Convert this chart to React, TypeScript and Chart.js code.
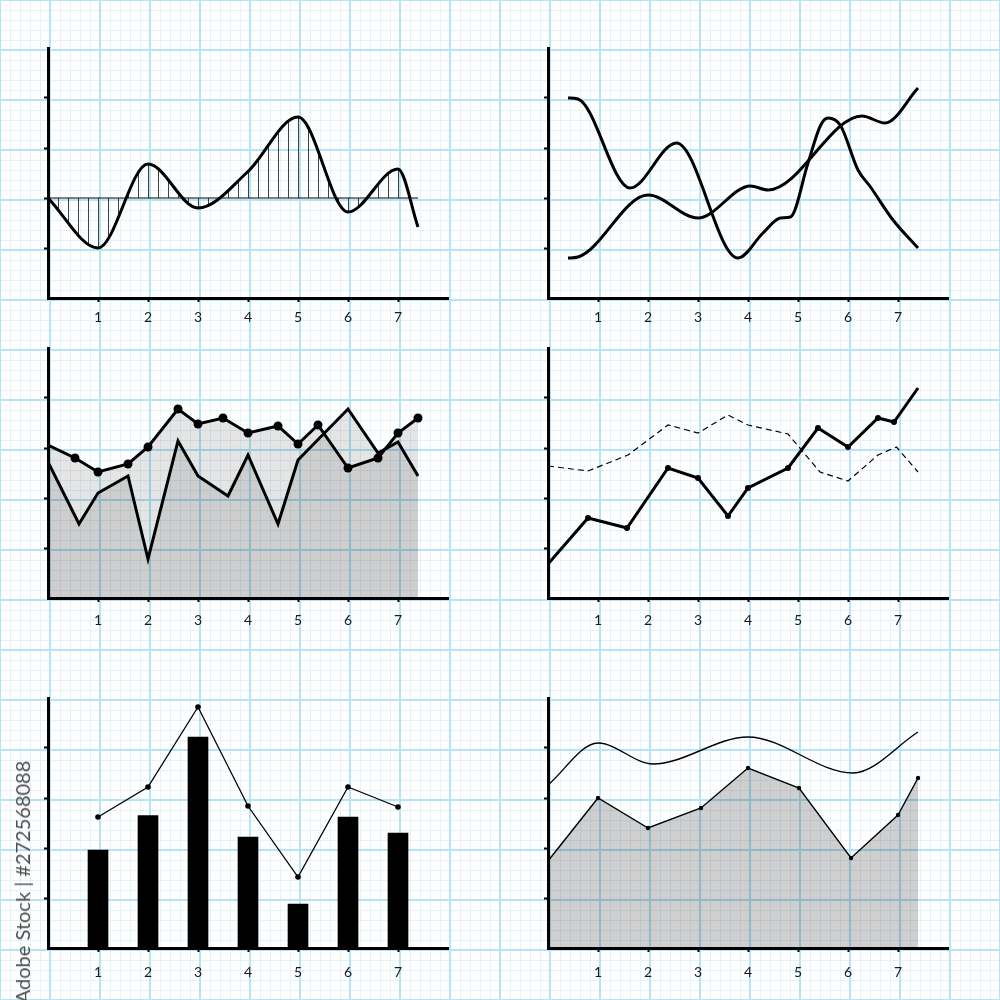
import React, { useEffect, useRef } from "react";
import { Chart, registerables } from "chart.js";
Chart.register(...registerables);

// ---------- shared axis ticks ----------
const X_TICKS = [1, 2, 3, 4, 5, 6, 7];
const Y_TICKS = [1, 2, 3, 4];

// ---------- panel 1: oscillation hatched against a baseline ----------
const P1_X = [0, 1, 2, 3, 4, 5, 6, 7, 7.4];
const P1_Y = [2.0, 1.0, 2.68, 1.8, 2.53, 3.62, 1.72, 2.58, 1.42];
const P1_BASE_X = [0, 7.4];
const P1_BASE_Y = [2, 2];

// ---------- panel 2: two smooth curves ----------
const P2A_X = [0.4, 0.6, 1.64, 2.57, 3.8, 4.3, 4.65, 4.85, 5.2, 5.45, 5.6, 5.85, 6.2, 6.45, 6.9, 7.4];
const P2A_Y = [4.0, 3.98, 2.2, 3.1, 0.8, 1.3, 1.6, 1.62, 2.7, 3.45, 3.6, 3.45, 2.56, 2.22, 1.56, 1.0];
const P2B_X = [0.4, 0.6, 2.0, 3.0, 4.05, 4.4, 6.28, 6.74, 7.4];
const P2B_Y = [0.8, 0.82, 2.06, 1.6, 2.24, 2.16, 3.64, 3.5, 4.2];

// ---------- panel 3: two overlapping areas ----------
const P3_DOT_X = [0, 0.54, 1, 1.6, 2, 2.6, 3, 3.5, 4, 4.6, 5, 5.4, 6, 6.6, 7, 7.4];
const P3_DOT_Y = [3.06, 2.8, 2.52, 2.68, 3.02, 3.78, 3.48, 3.6, 3.3, 3.44, 3.08, 3.46, 2.6, 2.8, 3.3, 3.6];
const P3_ZIG_X = [0, 0.62, 1, 1.6, 2, 2.6, 3, 3.6, 4, 4.6, 5, 6, 6.6, 7, 7.4];
const P3_ZIG_Y = [2.72, 1.48, 2.1, 2.44, 0.78, 3.14, 2.44, 2.04, 2.86, 1.48, 2.76, 3.78, 2.9, 3.12, 2.44];

// ---------- panel 4: solid trend + dashed line ----------
const P4_SOLID_X = [0, 0.8, 1.58, 2.4, 3.0, 3.6, 4.0, 4.8, 5.4, 6.0, 6.6, 6.92, 7.4];
const P4_SOLID_Y = [0.68, 1.6, 1.4, 2.6, 2.4, 1.64, 2.2, 2.6, 3.4, 3.02, 3.6, 3.52, 4.2];
const P4_DASH_X = [0, 0.8, 1.6, 2.4, 3.0, 3.6, 4.0, 4.8, 5.44, 6.0, 6.6, 6.97, 7.4];
const P4_DASH_Y = [2.64, 2.54, 2.86, 3.46, 3.3, 3.66, 3.46, 3.28, 2.52, 2.34, 2.86, 3.02, 2.52];

// ---------- panel 5: bars + line ----------
const P5_X = [1, 2, 3, 4, 5, 6, 7];
const P5_BARS = [1.96, 2.65, 4.22, 2.22, 0.88, 2.62, 2.3];
const P5_LINE = [2.62, 3.22, 4.82, 2.84, 1.42, 3.22, 2.82];

// ---------- panel 6: area + smooth wave ----------
const P6_AREA_X = [0, 1, 2, 3.06, 4, 5.02, 6.06, 7, 7.4];
const P6_AREA_Y = [1.74, 3.0, 2.4, 2.8, 3.6, 3.2, 1.8, 2.66, 3.4];
const P6_WAVE_X = [0, 1, 2.1, 4, 6.1, 7.4];
const P6_WAVE_Y = [3.26, 4.1, 3.68, 4.22, 3.5, 4.32];

const FONT = "Lato, 'Noto Sans', sans-serif";

const pts = (xs: number[], ys: number[]) => xs.map((x, i) => ({ x, y: ys[i] }));

function baseOptions(labelPad: number): any {
  const grid = {
    display: true,
    drawOnChartArea: false,
    drawTicks: true,
    tickLength: 4,
    tickWidth: 2,
    tickColor: "#000",
    offset: false,
  };
  const border = { display: true, color: "#000", width: 3 };
  return {
    responsive: false,
    maintainAspectRatio: false,
    animation: false,
    events: [],
    layout: { padding: { top: 48, left: 0, right: 52, bottom: 0 } },
    plugins: {
      legend: { display: false },
      tooltip: { enabled: false },
      filler: { propagate: false },
    },
    elements: { point: { radius: 0 }, line: { tension: 0 } },
    scales: {
      x: {
        type: "linear",
        min: 0,
        max: 8,
        offset: false,
        afterFit: (s: any) => {
          s.height = 52;
        },
        afterBuildTicks: (s: any) => {
          s.ticks = X_TICKS.map((v) => ({ value: v }));
        },
        grid,
        border,
        ticks: {
          padding: labelPad,
          color: "#1a1a1a",
          font: { family: FONT, size: 14 },
          maxRotation: 0,
          autoSkip: false,
          callback: (v: any) => String(v),
        },
      },
      y: {
        type: "linear",
        min: 0,
        max: 5,
        afterFit: (s: any) => {
          s.width = 48;
        },
        afterBuildTicks: (s: any) => {
          s.ticks = Y_TICKS.map((v) => ({ value: v }));
        },
        grid,
        border,
        ticks: { display: false },
      },
    },
  };
}

function buildP1(): any {
  const pc = document.createElement("canvas");
  pc.width = 10;
  pc.height = 4;
  const g = pc.getContext("2d")!;
  g.fillStyle = "rgba(30,30,30,0.85)";
  g.fillRect(8, 0, 1, 4);
  const pattern = g.createPattern(pc, "repeat");
  return {
    type: "line",
    data: {
      datasets: [
        {
          data: pts(P1_X, P1_Y),
          borderColor: "#000",
          borderWidth: 3,
          cubicInterpolationMode: "monotone",
          fill: { value: P1_BASE_Y[0] },
          backgroundColor: pattern,
          pointRadius: 0,
        },
        {
          data: pts(P1_BASE_X, P1_BASE_Y),
          borderColor: "#000",
          borderWidth: 1,
          fill: false,
          pointRadius: 0,
        },
      ],
    },
    options: baseOptions(7),
  };
}

function buildP2(): any {
  const ds = (xs: number[], ys: number[]) => ({
    data: pts(xs, ys),
    borderColor: "#000",
    borderWidth: 3,
    cubicInterpolationMode: "monotone",
    fill: false,
    pointRadius: 0,
  });
  return {
    type: "line",
    data: { datasets: [ds(P2A_X, P2A_Y), ds(P2B_X, P2B_Y)] },
    options: baseOptions(7),
  };
}

function buildP3(): any {
  const opts = baseOptions(10);
  opts.plugins.filler.drawTime = "beforeDatasetsDraw";
  return {
    type: "line",
    data: {
      datasets: [
        {
          data: pts(P3_DOT_X, P3_DOT_Y),
          borderColor: "#000",
          borderWidth: 3,
          fill: "origin",
          backgroundColor: "rgba(0,0,0,0.1)",
          pointRadius: P3_DOT_X.map((_, i) => (i === 0 ? 0 : 4.5)),
          pointBackgroundColor: "#000",
          pointBorderWidth: 0,
        },
        {
          data: pts(P3_ZIG_X, P3_ZIG_Y),
          borderColor: "#000",
          borderWidth: 3,
          fill: "origin",
          backgroundColor: "rgba(0,0,0,0.1)",
          pointRadius: 0,
        },
      ],
    },
    options: opts,
  };
}

function buildP4(): any {
  return {
    type: "line",
    data: {
      datasets: [
        {
          data: pts(P4_SOLID_X, P4_SOLID_Y),
          borderColor: "#000",
          borderWidth: 3,
          fill: false,
          pointRadius: P4_SOLID_X.map((_, i) => (i === 0 || i === P4_SOLID_X.length - 1 ? 0 : 3)),
          pointBackgroundColor: "#000",
          pointBorderWidth: 0,
        },
        {
          data: pts(P4_DASH_X, P4_DASH_Y),
          borderColor: "#000",
          borderWidth: 1.2,
          borderDash: [6, 4],
          fill: false,
          pointRadius: 0,
        },
      ],
    },
    options: baseOptions(10),
  };
}

function buildP5(): any {
  return {
    type: "bar",
    data: {
      datasets: [
        {
          type: "line",
          order: 0,
          data: pts(P5_X, P5_LINE),
          borderColor: "#000",
          borderWidth: 1.3,
          fill: false,
          pointRadius: 2.8,
          pointBackgroundColor: "#000",
          pointBorderWidth: 0,
        },
        {
          type: "bar",
          order: 1,
          data: pts(P5_X, P5_BARS),
          backgroundColor: "#000",
          borderWidth: 0,
          barThickness: 20,
        },
      ],
    },
    options: baseOptions(12),
  };
}

function buildP6(): any {
  return {
    type: "line",
    data: {
      datasets: [
        {
          data: pts(P6_WAVE_X, P6_WAVE_Y),
          borderColor: "#000",
          borderWidth: 1.4,
          cubicInterpolationMode: "monotone",
          fill: false,
          pointRadius: 0,
        },
        {
          data: pts(P6_AREA_X, P6_AREA_Y),
          borderColor: "#000",
          borderWidth: 1.4,
          fill: "origin",
          backgroundColor: "rgba(0,0,0,0.19)",
          pointRadius: P6_AREA_X.map((_, i) => (i === 0 ? 0 : 2.2)),
          pointBackgroundColor: "#000",
          pointBorderWidth: 0,
        },
      ],
    },
    options: baseOptions(12),
  };
}

function Panel({ left, top, build }: { left: number; top: number; build: () => any }) {
  const ref = useRef<HTMLCanvasElement>(null);
  useEffect(() => {
    const chart = new Chart(ref.current as HTMLCanvasElement, build());
    return () => chart.destroy();
  }, []);
  return (
    <canvas
      ref={ref}
      width={500}
      height={350}
      style={{ position: "absolute", left, top, width: 500, height: 350 }}
    />
  );
}

export default function App() {
  const major = "rgb(180,228,245)";
  const minor = "rgb(228,243,250)";
  return (
    <div
      style={{
        position: "absolute",
        left: 0,
        top: 0,
        width: 1000,
        height: 1000,
        overflow: "hidden",
        backgroundColor: "#fff",
        backgroundImage: [
          `linear-gradient(to right, ${major} 2px, transparent 2px)`,
          `linear-gradient(to bottom, ${major} 2px, transparent 2px)`,
          `linear-gradient(to right, ${minor} 1px, transparent 1px)`,
          `linear-gradient(to bottom, ${minor} 1px, transparent 1px)`,
        ].join(","),
        backgroundSize: "50px 50px, 50px 50px, 10px 10px, 10px 10px",
        backgroundPosition: "-1px -1px, -1px -1px, 0 0, 0 0",
      }}
    >
      <Panel left={0} top={0} build={buildP1} />
      <Panel left={500} top={0} build={buildP2} />
      <Panel left={0} top={300} build={buildP3} />
      <Panel left={500} top={300} build={buildP4} />
      <Panel left={0} top={650} build={buildP5} />
      <Panel left={500} top={650} build={buildP6} />
      <div
        style={{
          position: "absolute",
          left: 22,
          top: 882,
          transform: "translate(-50%, -50%) rotate(-90deg)",
          whiteSpace: "nowrap",
          fontFamily: FONT,
          fontSize: 20,
          color: "#4d4d4d",
        }}
      >
        Adobe Stock | #272568088
      </div>
    </div>
  );
}
